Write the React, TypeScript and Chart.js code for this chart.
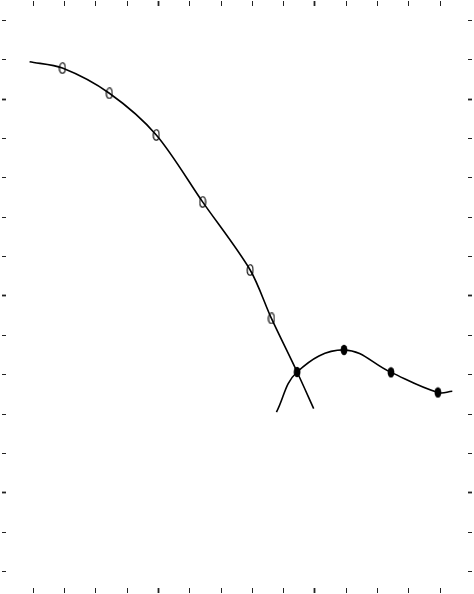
import React, { useEffect, useRef } from 'react';
import { Chart, registerables } from 'chart.js';

Chart.register(...registerables);

// upper branch (open markers)
const branchAX = [0.88, 1.93, 3.43, 4.93, 6.41, 7.93, 8.61, 9.43, 9.96];
const branchAY = [10.95, 10.79, 10.15, 9.09, 7.39, 5.66, 4.43, 3.07, 2.14];
const openMarkX = [1.93, 3.43, 4.93, 6.41, 7.93, 8.61];
const openMarkY = [10.79, 10.15, 9.09, 7.39, 5.66, 4.43];

// lower branch (filled markers)
const branchBX = [8.77, 9.43, 10.93, 12.43, 13.93, 14.39];
const branchBY = [2.05, 3.07, 3.63, 3.06, 2.55, 2.58];
const filledMarkX = [9.43, 10.93, 12.43, 13.93];
const filledMarkY = [3.07, 3.63, 3.06, 2.55];

// axis limits (frame is cropped, so ticks only)
const X_MIN = 0.1267;
const X_MAX = 14.892;
const Y_MIN = -2.418;
const Y_MAX = 12.367;

const toPoints = (xs: number[], ys: number[]) => xs.map((x, i) => ({ x, y: ys[i] }));

function ellipse(filled: boolean) {
  const c = document.createElement('canvas');
  c.width = 8;
  c.height = 12;
  const g = c.getContext('2d')!;
  g.beginPath();
  g.ellipse(4, 6, filled ? 3.4 : 2.9, 5.2, 0, 0, Math.PI * 2);
  if (filled) {
    g.fillStyle = '#000';
    g.fill();
  } else {
    g.strokeStyle = '#000';
    g.lineWidth = 1.1;
    g.stroke();
  }
  return c;
}

const tickAxis = (position: string, min: number, max: number, len: number) => ({
  type: 'linear' as const,
  position,
  min,
  max,
  border: { display: false },
  ticks: { display: false, stepSize: 1, includeBounds: false },
  grid: {
    drawOnChartArea: false,
    drawTicks: true,
    tickLength: len,
    tickColor: '#222',
    tickWidth: (ctx: any) => (Math.round(ctx.tick?.value) % 5 === 0 ? 1.8 : 1),
  },
});

const App: React.FC = () => {
  const canvasRef = useRef<HTMLCanvasElement>(null);
  const chartRef = useRef<Chart | null>(null);

  useEffect(() => {
    const ctx = canvasRef.current?.getContext('2d');
    if (!ctx) return;
    if (chartRef.current) chartRef.current.destroy();

    const openImg = ellipse(false);
    const fillImg = ellipse(true);

    chartRef.current = new Chart(ctx, {
      type: 'scatter',
      data: {
        datasets: [
          {
            data: toPoints(branchAX, branchAY),
            showLine: true,
            borderColor: '#000',
            borderWidth: 1.6,
            pointRadius: 0,
            tension: 0.3,
          },
          {
            data: toPoints(branchBX, branchBY),
            showLine: true,
            borderColor: '#000',
            borderWidth: 1.6,
            pointRadius: 0,
            tension: 0.4,
          },
          {
            data: toPoints(openMarkX, openMarkY),
            pointStyle: openImg,
            pointRadius: 5,
          },
          {
            data: toPoints(filledMarkX, filledMarkY),
            pointStyle: fillImg,
            pointRadius: 5,
          },
        ],
      },
      options: {
        animation: false,
        responsive: false,
        devicePixelRatio: 1,
        layout: { padding: 0 },
        plugins: { legend: { display: false }, tooltip: { enabled: false } },
        scales: {
          x: tickAxis('bottom', X_MIN, X_MAX, 5),
          x2: tickAxis('top', X_MIN, X_MAX, 5),
          y: tickAxis('left', Y_MIN, Y_MAX, 4),
          y2: tickAxis('right', Y_MIN, Y_MAX, 4),
        } as any,
      },
    });

    return () => {
      if (chartRef.current) {
        chartRef.current.destroy();
        chartRef.current = null;
      }
    };
  }, []);

  return (
    <div style={{ position: 'fixed', left: 0, top: 0, width: 474, height: 594, background: '#fff' }}>
      <canvas ref={canvasRef} width={474} height={594} />
    </div>
  );
};

export default App;
